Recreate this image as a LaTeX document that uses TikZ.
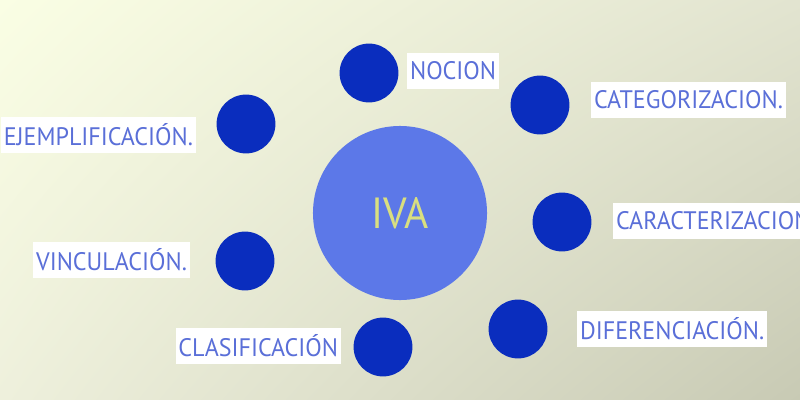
\documentclass[tikz,border=0pt]{standalone}
\usepackage{fontspec}
\usetikzlibrary{shadings}
\setmainfont[FakeStretch=0.95]{PT Sans}
\definecolor{dotblue}{HTML}{0A2DBE}
\definecolor{hubblue}{HTML}{5C78E8}
\definecolor{tagblue}{HTML}{5A6FD8}
\definecolor{ivayellow}{HTML}{D9DF80}
\definecolor{bgA}{HTML}{FAFEE4}
\definecolor{bgB}{HTML}{E2E4D0}
\definecolor{bgC}{HTML}{EEF0DC}
\definecolor{bgD}{HTML}{C8CAB4}
\begin{document}
\begin{tikzpicture}[x=0.025cm,y=-0.025cm]
\tikzstyle{dot}=[circle, fill=dotblue, inner sep=0pt, minimum size=1.47cm]
\tikzstyle{tag}=[fill=white, text=tagblue, inner xsep=2pt, inner ysep=0pt, minimum height=0.875cm, font=\fontsize{18}{20}\selectfont]
\useasboundingbox (0,0) rectangle (800,400);
\clip (0,0) rectangle (800,400);
\shade [upper left=bgA, upper right=bgB, lower left=bgC, lower right=bgD] (0,0) rectangle (800,400);
% centre
\node [circle, fill=hubblue, inner sep=0pt, minimum size=4.35cm, text=ivayellow, font=\fontsize{31}{34}\selectfont] (iva) at (400,213) {IVA};
% dots
\node [dot] (nocion) at (369,73) {};
\node [dot] (categ) at (540,105) {};
\node [dot] (ejempl) at (246,124) {};
\node [dot] (caract) at (562,222) {};
\node [dot] (vincul) at (245,261) {};
\node [dot] (clasif) at (383,347) {};
\node [dot] (difer) at (518,329) {};
% labels
\node [tag, anchor=west] (nocion-l) at (407,71) {NOCION};
\node [tag, anchor=west] (categ-l) at (591,100) {CATEGORIZACION.};
\node [tag, anchor=east] (ejempl-l) at (196,135) {EJEMPLIFICACIÓN.};
\node [tag, anchor=west] (caract-l) at (613,221) {CARACTERIZACION};
\node [tag, anchor=east] (vincul-l) at (190,260) {VINCULACIÓN.};
\node [tag, anchor=east] (clasif-l) at (341,346) {CLASIFICACIÓN};
\node [tag, anchor=west] (difer-l) at (577,329) {DIFERENCIACIÓN.};
\end{tikzpicture}
\end{document}
